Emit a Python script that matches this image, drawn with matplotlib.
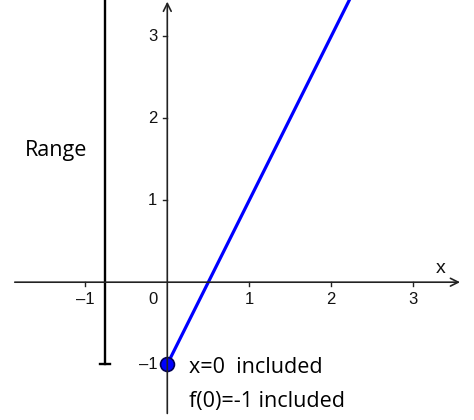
import matplotlib
matplotlib.use("Agg")
import matplotlib.pyplot as plt
import numpy as np

# data
line_x = [0.0, 2.3]
slope, intercept = 2.0, -1.0
point = (0.0, -1.0)
range_x = -0.76
range_y = [-1.0, 3.5]
xticks = [-1, 1, 2, 3]
yticks = [-1, 1, 2, 3]
xlim = (-2.04, 3.74)
ylim = (-1.68, 3.44)

fig = plt.figure(figsize=(4.74, 4.2), dpi=100)
ax = fig.add_axes([0, 0, 1, 1])
ax.set_xlim(*xlim)
ax.set_ylim(*ylim)
ax.axis("off")

axc = "#222222"
# axes
ax.annotate("", xy=(3.57, 0), xytext=(-1.86, 0), annotation_clip=False,
            arrowprops=dict(arrowstyle="->", color=axc, lw=1.2, shrinkA=0, shrinkB=0,
                            mutation_scale=14))
ax.annotate("", xy=(0, 3.42), xytext=(0, -1.6), annotation_clip=False,
            arrowprops=dict(arrowstyle="->", color=axc, lw=1.2, shrinkA=0, shrinkB=0,
                            mutation_scale=14))

tfont = dict(family="Liberation Sans", fontsize=12, color="#111111")
for t in xticks:
    ax.plot([t, t], [0, -0.05], color=axc, lw=1)
    ax.text(t, -0.12, f"\u2013{abs(t)}" if t < 0 else str(t), ha="center", va="top", **tfont)
for t in yticks:
    ax.plot([-0.05, 0], [t, t], color=axc, lw=1)
    ax.text(-0.12, t, f"\u2013{abs(t)}" if t < 0 else str(t), ha="right", va="center", **tfont)
ax.text(-0.12, -0.12, "0", ha="right", va="top", **tfont)
ax.text(3.33, 0.06, "x", ha="center", va="bottom", family="Liberation Sans", fontsize=14, color="#111111")

# range bar
ax.plot([range_x, range_x], range_y, color="black", lw=1.7)
ax.plot([range_x - 0.06, range_x + 0.06], [range_y[0], range_y[0]], color="black", lw=1.7)

# function line
xs = np.array(line_x)
ax.plot(xs, slope * xs + intercept, color="#0000ff", lw=2.3, solid_capstyle="butt")
ax.plot([point[0]], [point[1]], "o", markersize=10, markerfacecolor="#0000ff",
        markeredgecolor="#000055", markeredgewidth=1.2)

lfont = dict(family="Open Sans", fontsize=15.5, color="black")
ax.text(-1.74, 1.61, "Range", ha="left", va="center", **lfont)
ax.text(0.27, -1.04, "x=0  included", ha="left", va="center", **lfont)
ax.text(0.27, -1.46, "f(0)=-1 included", ha="left", va="center", **lfont)

fig.savefig("out.png", dpi=100)
